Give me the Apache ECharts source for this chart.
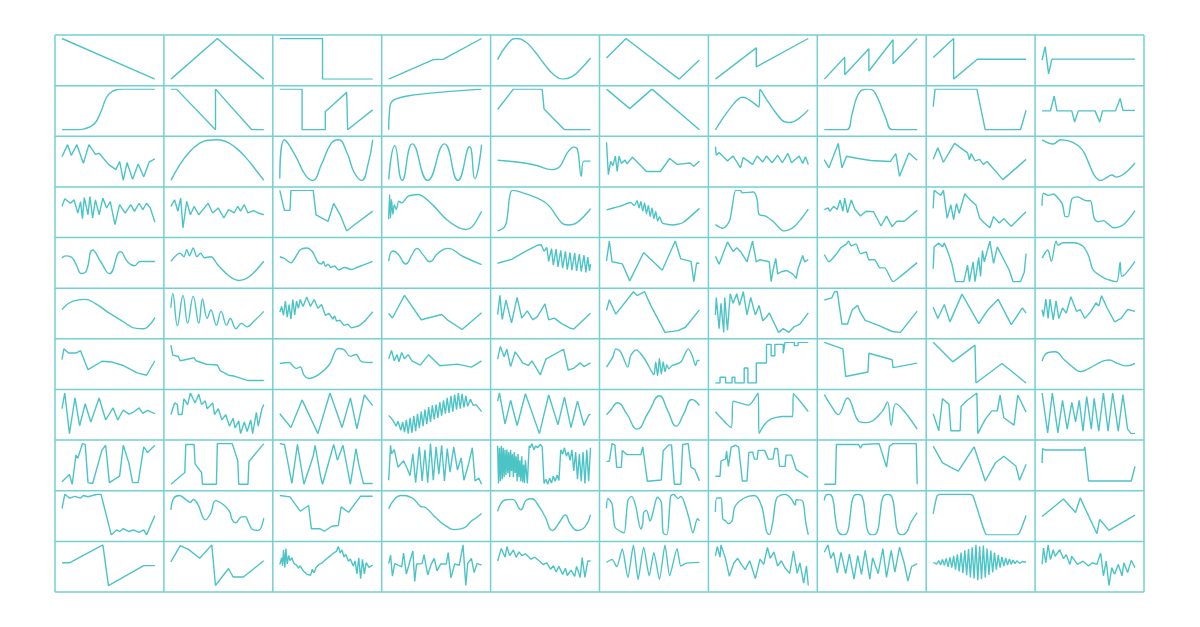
<!DOCTYPE html>
<html><head><meta charset="utf-8">
<script src="https://cdn.jsdelivr.net/npm/echarts@6/dist/echarts.min.js"></script>
<style>html,body{margin:0;padding:0;background:#fff}#main{width:1200px;height:627px}</style>
</head><body><div id="main"></div>
<script>
// ---- data: each cell is a list of [x, y] samples (x 0..10, y 0..10) ----
// row 1
const c_1_1 = [[0,10],[10,0]];
const c_1_2 = [[0,0],[5,10],[10,0]];
const c_1_3 = [[0,10],[4.6,10],[4.6,0],[10,0]];
const c_1_4 = [[0,0],[4.8,4.8],[5.9,4.9],[10,10]];
const c_1_5 = [[0,4.8],[1,8.4],[2,10],[3,9.2],[4,6.8],[5,3.8],[6,1.2],[7,0],[8,0.6],[9,2.6],[10,5.2]];
const c_1_6 = [[0,5.2],[2.1,10],[7.8,0],[10,4.7]];
const c_1_7 = [[0,0],[4.4,7.7],[4.4,3],[10,10]];
const c_1_8 = [[0,0],[2.2,5.4],[2.2,1.1],[4.8,7.5],[4.8,2.0],[7.4,9.7],[7.4,3.8],[10,10]];
const c_1_9 = [[0,5.3],[2.2,10],[2.2,0],[4.75,4.9],[10,4.9]];
const c_1_10 = [[0,5.1],[0.33,10],[0.7,0],[1.05,5.4],[10,5.4]];
// row 2
const c_2_1 = [[0,0],[1.5,0],[2.5,0.3],[3.5,1.5],[4.2,4.5],[4.8,8],[5.5,9.6],[6.5,10],[10,10]];
const c_2_2 = [[0,10],[0.6,10],[4.8,0],[4.8,10],[8.7,0],[10,0]];
const c_2_3 = [[0,10],[2.4,10],[2.4,0],[4.9,0],[4.9,4.5],[5.4,5.5],[7.2,9.2],[7.3,0],[10,4.9]];
const c_2_4 = [[0,0],[0.1,5],[0.3,6.8],[0.8,7.6],[2,8.3],[4,8.9],[7,9.5],[10,10]];
const c_2_5 = [[0,5],[1.7,10],[4.8,10],[5,5.1],[7.2,0],[10,0]];
const c_2_6 = [[0,10],[2.5,5.2],[4.9,10],[10,0]];
const c_2_7 = [[0,0],[1,3.5],[2,6.5],[2.6,7.8],[3,8],[3.6,7.4],[4.7,5.6],[4.8,10],[5.5,7.5],[6.5,4.2],[7.4,2.0],[8,1.8],[9,2.8],[10,4.9]];
const c_2_8 = [[0,0],[2.4,0],[3.0,4],[3.5,8],[4.1,9.8],[4.7,10],[5.3,9.6],[5.9,7],[6.6,3],[7.3,0],[10,0]];
const c_2_9 = [[0,5.7],[0.2,10],[4.7,10],[5.6,0],[9.4,0],[10,4.8]];
const c_2_10 = [[0,4.3],[0.9,4.3],[1.3,10],[1.6,4.3],[3.2,4.3],[3.5,0],[3.9,4.3],[5.7,4.3],[6.2,0],[6.5,4.3],[7.9,4.3],[8.4,9.1],[8.7,4.5],[10,4.5]];
// row 3
const c_3_1 = [[0,6.6],[0.6,10],[1.0,7.0],[1.6,10],[2.3,4.8],[2.9,10],[3.6,7.3],[4.0,7.6],[5.0,4.5],[5.8,3.0],[6.2,5.3],[6.6,0],[7.0,5.0],[7.6,0.3],[8.2,4.6],[8.8,1.0],[9.4,5.2],[10,6.0]];
const c_3_2 = [[0,0],[1,4],[2,7],[3,9],[4,9.9],[5,10],[6,9.5],[7,8],[8,5.8],[9,3],[10,0]];
const c_3_3 = [[0,0.5],[0.5,10],[1.7,6],[2.7,1.5],[3.5,0],[4.5,4],[5.5,9],[6.3,10],[7.2,7],[8.0,2],[8.8,0],[9.5,4],[10,10]];
const c_3_4 = [[0,0.3],[0.65,9.5],[1.45,0],[2.55,10],[4.2,0],[6.0,10],[7.45,0],[8.7,9.2],[9.27,0.5],[10,9.8]];
const c_3_5 = [[0,5.5],[2.3,4.8],[4.2,3.7],[5.8,2.3],[6.7,3.4],[7.5,8.0],[8.2,10],[8.6,9.2],[9.0,0],[9.3,5.2],[10,5.2]];
const c_3_6 = [[0,10],[0.2,0],[0.45,4.1],[0.7,2.8],[0.95,5.7],[1.15,1.0],[1.35,5.7],[1.6,3.5],[2.0,4.5],[2.2,3.4],[2.8,5.4],[4.3,1.0],[5.8,1.0],[6.8,5.0],[7.6,3.2],[9.0,3.6],[9.4,2.6],[10,4.2]];
const c_3_7 = [[0,10],[0.1,6],[0.4,7.3],[1.3,3.2],[1.9,5.6],[2.7,0],[3.0,4.8],[4.0,1.6],[4.5,5.6],[5.1,2.8],[5.5,5.6],[6.1,2.4],[6.7,5.9],[7.2,2.4],[7.8,6.8],[8.2,2.4],[9.0,5.6],[9.4,2.1],[9.7,5.2],[10,1.6]];
const c_3_8 = [[0,5.1],[0.5,2.6],[1.5,10],[1.9,2.6],[2.4,6.1],[3.5,5.5],[5,4.8],[7.1,4.5],[7.7,6.9],[8.1,0],[9.1,7.1],[10,4.9]];
const c_3_9 = [[0,5.6],[0.5,8.8],[1.1,4.8],[2.3,10],[3.7,7.4],[3.9,5.5],[4.1,7.2],[4.5,5.2],[5.0,5.6],[5.4,4.2],[5.8,5.0],[7.5,0],[10,5.6]];
const c_3_10 = [[0,10],[1.2,9.0],[2,10],[3.3,9.4],[4.3,7.7],[5.0,4.5],[5.6,1.5],[6.3,0.2],[6.9,0.8],[7.5,1.5],[8.0,1.0],[10,4.4]];
// row 4
const c_4_1 = [[0,6.5],[0.3,9.2],[0.9,7.6],[1.3,8.8],[1.7,4.1],[2.0,8.2],[2.2,2.1],[2.4,9.6],[2.8,3.5],[3.0,10],[3.3,2.4],[3.6,8.8],[4.0,3.5],[4.4,9.4],[4.8,5.9],[5.2,8.2],[5.7,0],[6.2,7.1],[6.8,4.1],[7.4,7.1],[7.8,4.7],[8.3,7.6],[8.7,5.3],[9.1,7.6],[9.5,5.9],[10,0.9]];
const c_4_2 = [[0,7.2],[0.4,9.4],[0.75,5.6],[1.05,10],[1.3,0],[1.7,8.9],[2.1,4.4],[2.5,7.2],[3.0,4.4],[3.6,6.7],[4.0,8.3],[4.5,5],[5.1,6.7],[5.7,3.3],[6.2,6.1],[6.8,5],[7.2,7.2],[7.5,5.6],[7.9,7.8],[8.3,5],[8.9,5.8],[9.4,5],[10,4.4]];
const c_4_3 = [[0,10],[0.5,5.1],[1.1,5.1],[1.2,10],[3.6,10],[3.9,4],[5.2,2.4],[5.8,6.8],[6.5,4],[7.2,0],[7.9,1.3],[10,4.9]];
const c_4_4 = [[0,2.9],[0.1,10],[0.2,3.3],[0.3,8.6],[0.45,4.3],[0.6,7.1],[0.8,5.7],[1.1,8.1],[1.4,7.6],[2.1,9.5],[3.2,10],[4.7,7.1],[6.2,2.9],[7.5,0.5],[8.3,0],[9.0,0.8],[10,5.2]];
const c_4_5 = [[0,0],[0.8,1.2],[1.1,4.5],[1.3,8.5],[1.6,10],[2.5,9.6],[5.2,6.9],[6.9,2.0],[7.6,1.5],[8.5,2],[10,5.5]];
const c_4_6 = [[0,6.2],[1.5,7.7],[2.6,9.2],[3.0,8.0],[3.3,10],[3.5,7.0],[3.7,9.6],[3.9,5.7],[4.1,9.0],[4.3,4.6],[4.5,8.0],[4.7,3.5],[4.9,7.0],[5.1,2.5],[5.3,5.5],[5.5,1.6],[5.7,3.4],[6.0,0.8],[6.5,0.3],[7.1,0],[8.2,0.9],[10,6.8]];
const c_4_7 = [[0,1.6],[0.8,0.7],[1.5,2.4],[1.8,5.8],[2.2,10],[2.7,10],[2.9,9.4],[4.1,9.6],[4.5,7.7],[4.7,4.1],[5.4,3.7],[6.2,2.4],[7.4,0],[8.5,1.1],[10,5.4]];
const c_4_8 = [[0,6.0],[0.4,6.6],[0.6,5.4],[1.0,7.1],[1.4,6.0],[1.7,9.4],[2.0,5.4],[2.2,10],[2.5,4.8],[2.9,9.4],[3.3,6.0],[3.9,3.7],[4.5,5.4],[5.3,5.2],[6.1,0.2],[6.7,3.7],[7.3,0],[7.8,1.9],[8.6,1.9],[10,5.7]];
const c_4_9 = [[0,5.2],[0.1,10],[0.8,8.7],[1.1,10],[1.5,2.6],[1.9,6.1],[2.2,2.2],[2.5,6.5],[2.8,3.9],[3.4,9.1],[4.0,7.4],[4.6,6.1],[5.0,2.6],[5.5,1.3],[6.1,0],[6.5,3.0],[7.1,1.3],[7.6,2.4],[8.4,0.4],[10,4.3]];
const c_4_10 = [[0,6.3],[0.15,9.8],[0.7,9.2],[1.2,9.6],[1.8,8.2],[2.2,6.7],[2.5,3.3],[2.8,3.3],[3.2,8.2],[3.8,8.8],[4.8,7.7],[5.2,7.7],[5.6,2.9],[6.0,1.9],[6.6,2.2],[7.1,1.3],[7.7,0.2],[8.8,1.2],[10,5.0]];
// row 5
const c_5_1 = [[0,6.6],[0.4,7.5],[1.0,7.0],[1.5,4.0],[2.1,0],[2.6,1.0],[3.3,10],[4.2,4.8],[5.1,0],[6.3,9.3],[7.1,4.8],[7.8,3.3],[8.4,5.1],[10,5.1]];
const c_5_2 = [[0,5.9],[1.0,8.4],[1.4,7.3],[1.7,9.5],[2.0,7.6],[2.4,10],[2.8,7.3],[3.2,8.4],[3.6,7.0],[4.3,7.3],[5.1,4.6],[6.3,1.3],[7.3,0],[8.5,1.3],[10,5.9]];
const c_5_3 = [[0,6.0],[0.5,5.2],[1.2,3.2],[1.6,5.2],[2.2,9.2],[2.9,10],[3.5,8.4],[4.1,3.5],[4.5,2.7],[4.7,3.9],[4.9,1.6],[5.2,2.6],[5.5,1.1],[5.9,1.8],[6.3,0],[7.0,1.1],[7.7,0.2],[8.3,1.1],[10,3.9]];
const c_5_4 = [[0,2.2],[0.45,8.4],[1.0,6.5],[1.84,0.4],[2.5,6],[3.05,10],[3.7,6],[4.44,1.8],[5.3,7],[6.35,10],[8,5],[10,0]];
const c_5_5 = [[0,3.3],[1.5,4.7],[3.0,7.6],[4.2,9.7],[4.7,10],[5.0,7.6],[5.3,9.0],[5.5,4.0],[5.8,8.6],[6.0,2.6],[6.3,8.4],[6.5,2.0],[6.8,8.0],[7.0,1.5],[7.3,7.6],[7.5,1.0],[7.8,7.2],[8.0,0.8],[8.3,7.0],[8.5,0.5],[8.8,6.6],[9.0,0.3],[9.3,6.2],[9.5,0],[9.7,5.5],[9.9,0.5],[10,3.0]];
const c_5_6 = [[0,5.1],[0.3,10],[0.6,4.9],[1.7,4.4],[2.5,0.2],[4.0,7.2],[6.0,2.8],[7.4,10],[8.0,5.6],[9.1,5.0],[9.4,0],[9.7,4.6],[10,4.5]];
const c_5_7 = [[0,6.3],[0.4,4.4],[1.3,9.8],[1.9,7.5],[2.3,8.4],[2.7,7.5],[3.4,5.0],[4.0,10],[4.4,5.0],[4.8,5.5],[5.8,5.0],[6.0,0.2],[6.2,2.9],[6.5,5.8],[6.7,2.1],[7.1,2.6],[7.7,2.9],[8.3,2.1],[8.7,1.0],[8.9,3.3],[9.4,6.5],[9.6,5.0],[10,5.5]];
const c_5_8 = [[0,6.7],[0.5,4.9],[1.4,7.1],[1.8,8.4],[2.4,9.3],[2.6,10],[2.9,8.8],[3.4,9.3],[3.9,6.9],[4.5,7.3],[4.8,5.4],[5.4,5.4],[6.0,3.4],[6.5,3.4],[7.4,0],[8.3,1.5],[10,4.7]];
const c_5_9 = [[0,3.3],[0.1,8.6],[0.6,9.5],[1.0,8.6],[1.2,9.5],[1.6,7.3],[2.0,4.6],[2.4,0.2],[3.3,0.2],[3.7,4.2],[3.9,0.2],[4.3,5.0],[4.5,0.2],[4.9,6.0],[5.1,1.5],[5.3,7.7],[5.5,5.0],[6.1,10],[6.5,4.6],[6.9,8.6],[8.2,2.9],[8.6,0.2],[9.4,0.2],[9.8,2.5],[10,7.0]];
const c_5_10 = [[0,5.8],[0.6,7.8],[1.0,5.0],[1.5,10],[1.7,9.0],[2.3,9.6],[3.4,9.6],[4.4,8.7],[5.0,6.4],[5.5,2.9],[6.7,0.9],[8.0,0],[8.4,4.8],[8.6,1.3],[10,5.0]];
// row 6
const c_6_1 = [[0,6.5],[1.2,9.4],[2.4,10],[3.6,8.6],[5.0,5.5],[6.5,2.6],[8.0,0.1],[8.8,0],[9.4,1.2],[10,3.8]];
const c_6_2 = [[0,5.9],[0.2,10],[0.7,0.8],[1.3,9.4],[1.8,1.5],[2.4,9.2],[3.0,1.5],[3.4,8.4],[3.9,2.9],[4.3,5.3],[4.9,1.0],[5.4,4.9],[6.0,1.0],[6.4,2.9],[7.0,0],[7.6,1.5],[8.2,0.5],[8.9,2.0],[10,4.9]];
const c_6_3 = [[0,5.2],[0.2,7.0],[0.4,4.2],[0.6,8.7],[0.8,3.6],[1.0,7.6],[1.2,3.0],[1.4,9.2],[1.6,4.2],[1.8,8.7],[2.0,6.4],[2.2,9.2],[2.5,7.0],[2.9,10],[3.3,7.0],[3.7,9.2],[4.1,6.4],[4.5,7.6],[4.9,4.2],[5.3,4.8],[5.7,3.0],[5.9,4.0],[6.1,2.4],[6.5,2.6],[6.9,1.0],[7.3,1.4],[7.7,0.2],[8.5,0.8],[9.2,2.5],[10,5.3]];
const c_6_4 = [[0,4.8],[0.4,3.5],[1.7,10],[3.5,3.0],[5.7,4.5],[6.4,2.8],[7.9,0.2],[10,5]];
const c_6_5 = [[0,4.4],[0.25,10],[0.5,3.0],[0.9,8.6],[1.5,2.0],[2.1,9.4],[2.6,3.4],[3.2,5.5],[3.8,2.9],[4.3,3.9],[5.1,7.5],[5.5,2.9],[6.1,3.4],[6.9,1.8],[7.7,0.6],[8.2,0.2],[10,4.8]];
const c_6_6 = [[0,5.4],[0.3,7.9],[1.0,4.5],[2.9,9.8],[3.3,8.9],[4.1,9.8],[4.8,6.4],[6.3,0.2],[7.7,0.6],[8.5,1.4],[10,5.5]];
const c_6_7 = [[0,4.4],[0.1,8.6],[0.4,1.1],[0.6,7.2],[0.9,0.2],[1.0,8.6],[1.3,0.7],[1.6,9.5],[1.9,7.2],[2.3,9.5],[2.6,6.7],[3.0,10],[3.4,4.4],[3.8,8.6],[4.3,4.4],[4.7,6.7],[5.1,3.0],[5.5,3.9],[5.8,4.9],[6.2,3.0],[6.8,0.2],[7.3,1.1],[7.9,0.2],[8.5,1.6],[9.1,2.2],[10,4.9]];
const c_6_8 = [[0,8.0],[0.8,8.5],[1.1,10],[1.4,10],[1.9,2.2],[2.5,2.2],[3.0,5.6],[3.6,6.7],[3.8,5.4],[4.4,3.1],[5.9,1.8],[7.3,0.4],[8.2,0.2],[10,5.3]];
const c_6_9 = [[0,5.7],[0.5,2.0],[1.2,6.6],[1.8,0.9],[3.1,10],[4.9,0.3],[5.9,4.9],[7.0,8.3],[8.4,0],[9.6,5.5],[10,3.8]];
const c_6_10 = [[0,4.7],[0.15,2.0],[0.4,8.7],[0.65,1.3],[0.85,8.7],[1.2,0.7],[1.5,8.0],[1.8,1.3],[2.2,5.3],[2.6,3.3],[3.1,9.6],[3.7,4.0],[4.1,4.7],[4.6,1.3],[5.2,3.7],[5.8,7.3],[6.1,6.0],[6.4,10],[7.0,5.3],[7.8,0],[8.5,1.3],[9.2,4.7],[10,4.0]];
// row 7
const c_7_1 = [[0,5.9],[0.2,10],[0.7,8.4],[1.5,8.4],[2.0,9.3],[2.8,2.1],[4.3,5.3],[5.4,5.0],[6.5,3.8],[8.1,0.9],[9.1,0],[10,5.5]];
const c_7_2 = [[0,10],[0.2,7.2],[0.8,6.8],[1.0,5.6],[1.4,5.8],[1.9,6.1],[2.5,6.5],[2.7,5.6],[3.8,4.6],[5.0,4.4],[5.3,2.8],[6.2,1.5],[6.9,1.2],[8.3,0],[10,0]];
const c_7_3 = [[0,5.1],[1.0,5.4],[1.4,4.3],[1.8,3.5],[2.2,4.0],[2.6,1.3],[3.1,0.2],[4.1,1.3],[5.3,4.6],[6.3,10],[6.9,9.6],[7.6,7.4],[8.2,8.0],[8.8,5.7],[10,5.4]];
const c_7_4 = [[0,5.0],[0.3,10],[0.6,3.8],[0.9,7.5],[1.1,3.2],[1.4,8.8],[1.7,5.0],[2.1,7.5],[2.5,3.8],[3.4,1.2],[4.3,7.5],[5.5,0.8],[7.4,1.8],[8.9,0],[10,3.8]];
const c_7_5 = [[0,5.5],[0.3,10],[0.7,6.4],[1.0,9.0],[1.4,2.9],[1.9,8.1],[2.3,6.2],[2.7,4.2],[3.3,3.3],[3.7,4.9],[4.6,0],[5.2,5.5],[7.1,9.0],[7.6,1.7],[8.2,2.3],[8.9,4.2],[9.3,2.9],[10,4.2]];
const c_7_6 = [[0,3.2],[0.7,7.1],[1.0,10],[1.5,9.0],[2.3,3.2],[2.6,7.4],[3.2,9.6],[3.8,7.7],[4.4,4.5],[4.8,1.9],[5.1,0.3],[5.3,5.0],[5.5,0],[5.7,6.4],[5.9,0.6],[6.1,5.1],[6.3,1.5],[6.5,4.0],[6.7,2.6],[7.1,3.8],[8.0,5.1],[8.8,10],[9.2,7.7],[9.6,3.8],[9.8,5.8],[10,5.5]];
const c_7_7 = [[0,0],[0.5,0],[0.5,1.4],[1.1,1.4],[1.1,0],[1.8,0],[1.8,1.4],[2.1,1.4],[2.1,0],[3.1,0],[3.1,3.7],[3.5,3.7],[3.5,0],[4.4,0],[4.4,4.9],[5.5,4.9],[5.5,9.5],[6.0,9.5],[6.0,6.7],[6.4,6.7],[6.4,9.5],[7.3,9.5],[7.3,7.3],[7.5,7.3],[7.5,10],[8.5,10],[8.5,9.2],[8.9,9.2],[8.9,10],[10,10]];
const c_7_8 = [[0,10],[2.0,8.1],[2.3,0],[4.7,1.3],[4.8,6.8],[7.3,4.9],[7.4,2.6],[10,3.9]];
const c_7_9 = [[0,10],[2.1,5.2],[4.5,9.3],[4.6,0],[7.4,4.8],[10,0]];
const c_7_10 = [[0,5.3],[0.6,9.2],[1.4,9.7],[2.4,5.8],[3.5,1.7],[4.1,0.3],[5.0,1.7],[6.4,5.0],[7.2,5.8],[8.1,4.2],[9.1,3.0],[10,4.2]];
// row 8
const c_8_1 = [[0,6.2],[0.3,10],[0.8,0.2],[1.4,8.8],[1.9,2.1],[2.5,7.4],[3.1,3.0],[4.0,8.8],[4.7,3.5],[5.5,6.4],[6.0,3.5],[6.6,5.9],[7.2,4.9],[7.7,5.4],[8.3,6.4],[8.7,5.1],[9.2,5.8],[10,5.0]];
const c_8_2 = [[0,4.8],[0.4,7.6],[0.7,7.2],[0.8,4.8],[1.2,4.8],[1.4,8.6],[1.8,7.2],[2.1,10],[2.6,7.6],[3.0,9.7],[3.3,7.2],[3.7,8.1],[3.9,6.2],[4.5,7.6],[4.7,4.8],[5.1,6.2],[5.5,3.5],[5.9,4.8],[6.3,2.0],[6.7,3.9],[6.9,1.6],[7.3,3.2],[7.5,0.2],[7.9,3.0],[8.2,0.7],[8.6,3.5],[8.8,0.2],[9.2,5.3],[9.4,2.0],[9.8,6.2],[10,7.2]];
const c_8_3 = [[0,4.9],[1.2,1.5],[2.4,8.3],[4.1,0],[5.4,10],[6.7,1.5],[7.6,8.8],[8.3,1.2],[9.1,9.5],[10,6.9]];
const c_8_4 = [[0,4.6],[0.25,4.0],[0.5,3.2],[0.8,2.0],[1.0,3.2],[1.3,1.0],[1.5,3.0],[1.7,0.5],[1.9,3.5],[2.1,0.2],[2.3,4.0],[2.5,0.4],[2.7,4.5],[2.9,0.8],[3.1,5.0],[3.3,1.5],[3.5,5.5],[3.7,2.0],[3.9,6.0],[4.1,2.5],[4.3,6.6],[4.5,3.0],[4.7,7.0],[4.9,3.6],[5.1,7.2],[5.3,4.0],[5.5,7.8],[5.7,4.5],[5.9,8.2],[6.1,5.0],[6.3,8.8],[6.5,5.2],[6.7,9.3],[6.9,5.5],[7.1,9.6],[7.3,6.0],[7.5,10],[7.7,6.2],[7.9,9.8],[8.1,6.5],[8.3,9.3],[8.5,6.8],[8.8,8.5],[9.1,7.0],[9.4,7.2],[10,5.5]];
const c_8_5 = [[0,8.0],[0.2,10],[0.8,2.4],[1.4,8.2],[2.1,2.0],[3.0,9.8],[4.5,0],[5.5,9.5],[6.5,2.2],[7.2,9.0],[7.9,1.5],[8.6,8.0],[9.3,2.0],[9.8,4.5],[10,4.8]];
const c_8_6 = [[0,4.3],[0.4,5.5],[1.2,7.9],[2.2,4.5],[3.3,0],[4.5,5],[5.7,10],[6.6,5.5],[7.5,0.9],[8.3,4.5],[9.2,8.9],[10,7.1]];
const c_8_7 = [[0,5.4],[1.7,1.5],[1.9,8.0],[2.7,7.5],[3.6,7.0],[4.6,10],[4.7,0],[5.2,2.0],[6.0,3.6],[7.2,4.2],[8.3,4.2],[8.4,9.8],[10,5.4]];
const c_8_8 = [[0,10],[0.8,6.5],[1.5,4.2],[2.5,9.0],[3.8,2.1],[4.6,1.9],[6.2,5.0],[6.8,7.9],[7.2,1.1],[7.7,7.4],[8.6,5.2],[10,0]];
const c_8_9 = [[0,4.9],[0.6,0.7],[1.0,8.6],[1.7,7.2],[1.9,0.7],[2.9,0.7],[3.0,6.7],[3.6,8.1],[4.7,10],[4.8,0],[5.6,3.5],[6.3,5.6],[6.9,5.6],[7.2,9.5],[7.6,3.9],[8.7,2.1],[9.1,9.5],[10,5.3]];
const c_8_10 = [[0,10],[0.6,0.2],[1.1,10],[1.7,0.2],[2.2,8.2],[2.7,1.1],[3.2,7.7],[3.6,2.9],[4.0,8.2],[4.4,0.6],[4.8,9.1],[5.3,1.1],[5.6,8.7],[6.1,0.6],[6.6,10],[7.1,0.6],[7.6,10],[8.2,0.6],[8.7,9.6],[9.2,1.1],[9.6,0],[10,0]];
// row 9
const c_9_1 = [[0,0.6],[0.8,2.4],[1.1,0],[1.3,0],[1.5,7.2],[1.7,6.4],[2.2,10],[2.5,9.8],[2.8,0.4],[3.3,0.2],[4.3,8.4],[4.7,9.6],[5.1,0.4],[6.2,2.0],[6.6,9.6],[7.2,5.2],[7.6,0.4],[8.2,0.4],[8.8,9.2],[9.2,7.8],[10,9.6]];
const c_9_2 = [[0,0],[1.5,2.9],[1.6,9.8],[2.5,9.8],[2.6,5],[3.3,2.9],[3.4,0],[4.9,0],[5.0,10],[6.6,10],[7.2,5.8],[7.3,0],[8.3,0],[8.4,5.6],[10,10]];
const c_9_3 = [[0,10],[0.5,9.8],[1.3,0.4],[1.9,9.8],[2.6,0.2],[3.6,7.0],[3.8,9.6],[4.4,2.0],[4.6,0.2],[5.8,9.8],[6.2,6.0],[6.8,9.6],[7.6,0.2],[8.2,8.8],[8.5,5.0],[9.0,0.4],[10,0.4]];
const c_9_4 = [[0,1.0],[0.2,9.6],[0.3,7.5],[0.6,8.5],[1.0,4.2],[1.6,5.8],[2.0,3.8],[2.3,2.1],[2.6,7.5],[2.9,0.4],[3.3,9.2],[3.6,0.8],[3.9,8.5],[4.2,0.4],[4.5,10],[4.8,1.0],[5.1,9.2],[5.4,2.5],[5.7,9.6],[6.0,0.8],[6.3,8.8],[6.6,3.0],[7.0,9.2],[7.4,3.5],[7.8,6.5],[8.1,1.0],[8.6,5.0],[9.0,9.0],[9.3,0.8],[9.7,1.5],[10,0]];
const c_9_5 = [[0,9.5],[0.1,0.5],[0.2,9.0],[0.3,1],[0.4,9.5],[0.5,1.5],[0.6,9.0],[0.7,2],[0.8,8.5],[0.9,2.5],[1.0,8.6],[1.1,3],[1.2,8],[1.3,2],[1.4,8.5],[1.5,3.5],[1.6,7.5],[1.7,2],[1.8,8],[1.9,3],[2.0,7],[2.1,1],[2.2,7.5],[2.3,2],[2.4,6],[2.5,1],[2.6,7],[2.7,0.8],[2.8,5],[2.9,0.6],[3.0,6],[3.2,0.5],[3.4,9.5],[3.5,9.0],[3.7,10],[3.9,8.5],[4.1,9.5],[4.3,9.0],[4.6,9.8],[4.8,9.2],[5.0,0.5],[5.2,1.5],[5.4,0.3],[5.6,1.8],[5.8,0.6],[6.0,2.2],[6.2,1.0],[6.4,2.5],[6.6,1.2],[6.8,8.5],[7.0,7.5],[7.2,9.0],[7.4,7.0],[7.6,8.0],[7.8,6.0],[8.0,8.5],[8.2,3.5],[8.4,8],[8.6,1.5],[8.8,7.5],[9.0,1],[9.2,8],[9.4,0.5],[9.6,8.5],[9.8,1],[10,9]];
const c_9_6 = [[0,5.6],[0.3,5.6],[0.6,9.8],[0.9,9.5],[1.1,4.2],[1.6,4.2],[1.7,8.2],[2.2,7.2],[3.7,7.2],[3.9,9.0],[4.4,0.9],[4.6,1.2],[5.9,1.2],[6.1,8.1],[6.7,9.5],[7.0,9.5],[7.3,0.2],[8.0,0.2],[8.2,9.6],[8.8,9.8],[9.1,4.2],[9.5,3.7],[10,1.0]];
const c_9_7 = [[0,1.5],[0.5,1.5],[0.6,5.7],[1.1,6.2],[1.2,8.4],[1.4,4.2],[1.7,9.5],[2.2,10],[2.5,9.5],[2.9,0.2],[3.4,0.2],[3.6,8.0],[4.0,8.2],[4.2,6.2],[4.5,6.2],[4.6,8.6],[5.3,8.6],[5.7,6.2],[6.2,6.2],[6.4,9.1],[6.7,9.1],[6.9,4.2],[7.5,4.2],[7.6,7.3],[8.2,7.3],[8.7,3.3],[10,1.2]];
const c_9_8 = [[0,0],[1.2,0],[1.3,9.5],[3.7,9.5],[3.9,8.6],[4.1,9.5],[5.9,9.7],[6.7,4.1],[7.0,9.0],[7.4,9.7],[9.9,9.7],[10,0]];
const c_9_9 = [[0,9.8],[1.0,5.2],[2.7,2.9],[4.4,9.6],[5.6,0.2],[6.7,5.2],[7.6,7.0],[8.9,4.3],[9.3,0.4],[10,4.8]];
const c_9_10 = [[0,5.3],[0.05,9.5],[0.3,9.1],[4.5,9.1],[4.6,10],[5.0,0.1],[9.6,0.1],[10,4.3]];
// row 10
const c_10_1 = [[0,6.4],[0.3,9.8],[0.8,8.9],[1.4,9.3],[2.0,8.9],[2.3,9.5],[2.8,9.2],[3.3,9.5],[3.8,9.8],[4.2,9.8],[5.3,0.2],[5.9,1.4],[6.2,1.0],[6.6,1.7],[7.2,1.0],[7.7,1.4],[8.3,0.8],[8.8,1.4],[9.1,0.2],[10,4.8]];
const c_10_2 = [[0,5.8],[0.3,9.0],[0.9,9.8],[1.6,8.7],[2.1,7.9],[2.4,8.7],[2.9,7.4],[3.7,3.1],[4.3,5.0],[4.8,8.4],[5.6,7.4],[6.3,5.5],[6.6,3.1],[7.0,2.3],[7.5,3.8],[8.0,4.0],[8.4,2.1],[8.8,0.4],[9.4,0.2],[10,3.6]];
const c_10_3 = [[0,10],[1.1,9.6],[2.2,5.6],[3.1,7.2],[3.4,0.7],[4.3,0.7],[4.8,0],[5.6,1.4],[6.3,1.6],[6.6,6.8],[7.4,5.3],[8.7,9.8],[10,9.8]];
const c_10_4 = [[0,6.1],[0.6,8.8],[1.3,10],[2.5,9.3],[3.4,6.9],[4.0,6.4],[5.1,3.4],[6.2,1.0],[7.1,0],[8.1,0.5],[8.9,2.5],[9.4,3.4],[10,4.7]];
const c_10_5 = [[0,6.1],[0.8,9.6],[1.6,9.8],[2.5,6.6],[3.1,9.6],[3.7,10],[4.3,8.3],[5.1,4.5],[5.9,0.2],[6.7,2.9],[7.3,5.0],[7.8,2.3],[8.6,0.2],[9.4,1.3],[10,5.0]];
const c_10_6 = [[0,6.5],[0.15,8.8],[0.6,7.5],[0.9,2.1],[1.6,0.9],[1.9,0.7],[2.3,8.3],[2.7,9.3],[3.1,7.4],[3.7,1.6],[3.9,2.8],[4.0,5.5],[4.3,6.0],[4.7,3.5],[5.0,5.5],[5.3,8.3],[5.5,9.1],[5.9,7.9],[6.1,0.7],[6.5,0.2],[6.9,9.3],[7.2,9.8],[7.7,8.8],[8.0,9.3],[8.3,8.3],[8.9,4.0],[9.3,0.7],[9.8,4.0],[10,3.5]];
const c_10_7 = [[0,5.7],[0.15,9.1],[0.6,9.1],[0.8,4.0],[1.1,3.6],[1.4,2.9],[1.8,3.6],[2.1,7.0],[3.1,9.1],[4.2,9.7],[5.0,7.0],[5.5,1.0],[5.8,0.2],[6.2,3.6],[6.6,9.1],[7.5,10],[8.1,9.1],[8.6,7.4],[8.7,8.7],[9.4,8.3],[9.7,3.6],[10,0.2]];
const c_10_8 = [[0,8.5],[0.2,9.8],[0.5,10],[0.9,9],[1.2,4],[1.5,0.8],[2.0,0],[2.5,0.8],[2.8,5],[3.1,9.2],[3.6,10],[4.1,9.2],[4.4,5],[4.7,0.8],[5.2,0],[5.7,0.8],[6.0,5],[6.3,9.2],[6.8,10],[7.3,9.2],[7.6,5],[7.9,0.8],[8.4,0],[8.9,0.8],[9.3,3],[10,5.5]];
const c_10_9 = [[0,5.2],[0.4,9.5],[0.7,10],[4.0,10],[4.3,9.5],[5.5,1.0],[5.8,0],[9.0,0],[9.3,0.6],[10,4.8]];
const c_10_10 = [[0,4.9],[2.3,9.7],[3.6,6.0],[4.1,10],[5.9,0.2],[6.2,4.1],[7.2,1.1],[10,5.3]];
// row 11
const c_11_1 = [[0,5.6],[0.8,5.6],[4.4,10],[5.0,0],[8.8,4.9],[10,4.9]];
const c_11_2 = [[0,5.8],[1.0,9.8],[1.9,8.9],[3.1,6.7],[4.4,10],[4.8,0],[6.2,4.2],[6.7,2.1],[7.8,2.1],[10,6.1]];
const c_11_3 = [[0,4.4],[0.2,6.5],[0.3,4.0],[0.4,8.9],[0.55,3.5],[0.65,9.4],[0.8,4.6],[0.95,7.2],[1.1,5.6],[1.3,6.5],[1.5,4.8],[1.8,4.2],[2.0,3.3],[2.2,4.0],[2.5,2.5],[2.7,3.0],[2.9,1.4],[3.1,2.0],[3.3,1.0],[3.5,2.9],[3.7,1.8],[3.9,3.5],[4.2,4.4],[4.6,5.0],[5.0,6.1],[5.4,7.0],[5.8,8.0],[6.1,8.5],[6.3,10],[6.5,8.0],[6.7,8.9],[6.9,6.8],[7.1,7.5],[7.4,5.4],[7.6,6.1],[7.9,3.9],[8.1,5.5],[8.3,1.5],[8.5,6.5],[8.7,0],[8.9,6.0],[9.1,1.5],[9.3,5.0],[9.6,3.5],[10,4.2]];
const c_11_4 = [[0,5.4],[0.2,7.5],[0.4,2.3],[0.65,5.4],[1.0,5.0],[1.4,4.6],[1.6,8.0],[1.9,2.8],[2.2,5.3],[2.6,8.5],[2.8,1.0],[3.0,5.3],[3.6,5.4],[3.8,7.6],[4.2,2.6],[4.6,5.4],[4.9,6.7],[5.2,3.6],[5.6,5.3],[6.2,5.3],[6.4,8.1],[6.7,1.9],[7.1,5.3],[7.6,5.0],[8.0,10],[8.3,0],[8.5,5.4],[8.9,6.7],[9.2,3.2],[9.5,5.4],[9.8,5.2],[10,5.0]];
const c_11_5 = [[0,5.4],[0.4,9.4],[0.8,6.6],[1.0,10],[1.3,7.1],[1.7,8.9],[2.0,6.6],[2.3,8.3],[2.6,7.1],[3.0,7.7],[3.6,6.0],[4.0,6.6],[4.5,5.4],[4.9,4.3],[5.3,4.8],[5.7,2.8],[6.0,3.9],[6.3,1.9],[6.6,3.7],[7.0,1.1],[7.3,3.1],[7.5,0.8],[7.9,2.5],[8.3,0.5],[8.5,3.7],[8.9,0.2],[9.1,6.5],[9.4,0.2],[9.7,5.4],[10,5.4]];
const c_11_6 = [[0,4.9],[0.6,5.7],[1.1,3.7],[1.7,8.5],[2.3,0.8],[2.9,9.5],[3.4,0.3],[4.0,9.0],[4.6,1.3],[5.1,7.6],[5.7,0.3],[6.3,9.6],[6.8,1.3],[7.6,8.6],[8.0,3.9],[8.6,4.7],[10,4.9]];
const c_11_7 = [[0,7.3],[0.2,9.6],[0.5,7.0],[0.6,10],[1.1,6.5],[1.5,2.3],[2.0,5.6],[2.4,6.7],[2.8,5.2],[3.2,3.9],[3.7,6.1],[4.3,1.7],[4.8,6.5],[5.2,5.2],[5.6,9.4],[5.9,6.7],[6.3,8.3],[6.7,4.8],[7.1,6.1],[7.5,4.3],[8.0,3.0],[8.4,8.5],[8.8,3.0],[9.1,5.6],[9.5,0.6],[9.8,4.8],[10,0]];
const c_11_8 = [[0,8.0],[0.4,10],[0.7,6.3],[1.0,8.0],[1.4,2.4],[1.8,8.0],[2.3,2.2],[2.7,7.5],[3.2,0.7],[3.6,7.1],[4.0,2.0],[4.4,8.5],[4.9,0.7],[5.2,6.5],[5.8,2.2],[6.3,9.0],[6.7,1.2],[7.2,8.5],[7.6,2.6],[8.1,9.4],[8.6,5.1],[9.0,0.2],[9.4,4.1],[10,4.9]];
const c_11_9 = [[0,5.0],[0.2,5.5],[0.4,4.6],[0.6,5.6],[0.8,4.3],[1.0,5.9],[1.2,4.2],[1.4,6.2],[1.6,3.8],[1.8,6.5],[2.0,3.6],[2.2,6.9],[2.4,3.0],[2.6,7.3],[2.8,2.5],[3.0,7.8],[3.2,2.0],[3.4,8.5],[3.6,1.4],[3.8,8.8],[4.0,0.8],[4.2,9.3],[4.4,0.5],[4.6,10],[4.8,0],[5.0,9.6],[5.2,0.3],[5.4,9.8],[5.6,0.8],[5.8,9.0],[6.0,1.5],[6.2,8.4],[6.4,2.2],[6.6,7.8],[6.8,3.0],[7.0,7.1],[7.2,3.6],[7.4,6.6],[7.6,4.0],[7.8,6.3],[8.0,4.3],[8.2,6.0],[8.4,4.5],[8.6,5.7],[8.8,4.7],[9.0,5.5],[9.3,4.8],[9.6,5.3],[10,5.1]];
const c_11_10 = [[0,5.2],[0.15,9.2],[0.4,5.6],[0.65,10],[0.9,6.4],[1.2,8.8],[1.4,7.2],[1.9,8.8],[2.3,6.6],[2.6,7.6],[3.0,5.2],[3.2,7.2],[3.8,5.2],[4.4,6.0],[5.0,4.8],[5.4,5.6],[5.9,5.2],[6.3,8.0],[6.6,2.4],[6.9,6.0],[7.2,0],[7.5,4.4],[7.8,2.8],[8.2,5.2],[8.6,2.4],[8.8,5.6],[9.2,3.2],[9.6,6.2],[10,4.4]];

const cells = [
  [c_1_1,c_1_2,c_1_3,c_1_4,c_1_5,c_1_6,c_1_7,c_1_8,c_1_9,c_1_10],
  [c_2_1,c_2_2,c_2_3,c_2_4,c_2_5,c_2_6,c_2_7,c_2_8,c_2_9,c_2_10],
  [c_3_1,c_3_2,c_3_3,c_3_4,c_3_5,c_3_6,c_3_7,c_3_8,c_3_9,c_3_10],
  [c_4_1,c_4_2,c_4_3,c_4_4,c_4_5,c_4_6,c_4_7,c_4_8,c_4_9,c_4_10],
  [c_5_1,c_5_2,c_5_3,c_5_4,c_5_5,c_5_6,c_5_7,c_5_8,c_5_9,c_5_10],
  [c_6_1,c_6_2,c_6_3,c_6_4,c_6_5,c_6_6,c_6_7,c_6_8,c_6_9,c_6_10],
  [c_7_1,c_7_2,c_7_3,c_7_4,c_7_5,c_7_6,c_7_7,c_7_8,c_7_9,c_7_10],
  [c_8_1,c_8_2,c_8_3,c_8_4,c_8_5,c_8_6,c_8_7,c_8_8,c_8_9,c_8_10],
  [c_9_1,c_9_2,c_9_3,c_9_4,c_9_5,c_9_6,c_9_7,c_9_8,c_9_9,c_9_10],
  [c_10_1,c_10_2,c_10_3,c_10_4,c_10_5,c_10_6,c_10_7,c_10_8,c_10_9,c_10_10],
  [c_11_1,c_11_2,c_11_3,c_11_4,c_11_5,c_11_6,c_11_7,c_11_8,c_11_9,c_11_10]
];

// ---- style: smoothing per cell ----
const smoothRows = [
  [0,0,0,0,0.5,0,0,0,0,0],
  [0.4,0,0,0.5,0,0,0.4,0.4,0,0],
  [0,0.5,0.5,0.5,0.4,0,0,0,0,0.4],
  [0,0,0,0.3,0.4,0.2,0.3,0,0,0.3],
  [0.5,0.3,0.3,0.5,0,0,0,0.2,0,0.3],
  [0.5,0.4,0,0,0,0,0,0,0,0],
  [0,0,0.4,0,0,0.3,0,0,0,0.5],
  [0,0,0,0,0,0.5,0.2,0.4,0,0],
  [0,0,0,0,0,0,0,0,0,0],
  [0,0.4,0,0.5,0.5,0.3,0.3,0.5,0.2,0],
  [0,0,0,0,0,0.2,0,0,0,0]
];

// ---- axis padding: which part [top, bottom] of a cell's plot height the data range fills
// (mimics each small chart's rounded value axis); cells not listed fill it fully
const axisFit = {
  '1_10':[0.2,0.87], '2_10':[0.17,0.81],
  '3_1':[0.12,1], '3_4':[0.1,1], '3_5':[0.18,0.9], '3_6':[0.06,0.86], '3_7':[0.17,0.69], '3_8':[0.09,0.9], '3_9':[0.09,0.98],
  '4_1':[0.15,0.84], '4_2':[0.19,0.92], '4_4':[0.1,0.96], '4_6':[0.25,0.85], '4_8':[0.19,0.89], '4_9':[0,0.92], '4_10':[0.07,0.92],
  '5_1':[0.22,0.8], '5_2':[0.17,0.97], '5_3':[0.17,0.71], '5_4':[0.18,0.58], '5_5':[0.09,0.77],
  '6_1':[0.19,0.91], '6_2':[0.04,0.91], '6_3':[0.13,0.89], '6_4':[0.09,0.93], '6_5':[0.09,0.92], '6_9':[0.06,0.81], '6_10':[0.1,0.74],
  '7_1':[0.16,0.81], '7_2':[0.07,0.94], '7_3':[0.15,0.89], '7_4':[0.2,0.61], '7_5':[0.1,0.8], '7_6':[0.16,0.82], '7_8':[0,0.84], '7_10':[0.23,0.72],
  '8_6':[0.07,0.89], '8_8':[0.04,0.89],
  '9_7':[0.04,0.92], '9_9':[0.06,0.92], '9_10':[0.08,0.92],
  '10_2':[0.03,0.89], '10_3':[0.03,0.91], '10_4':[0.03,0.87], '10_5':[0.11,0.89], '10_10':[0.09,0.97],
  '11_3':[0.04,0.83], '11_5':[0.04,0.8], '11_6':[0,0.85], '11_8':[0,0.89], '11_9':[0,0.87]
};

const LINE = '#4cc4c6', BORDER = '#74d0d1';
const X0 = 55, Y0 = 35, CW = 108.9, CH = 50.64;
const nRows = cells.length, nCols = cells[0].length;

const grid = [], xAxis = [], yAxis = [], series = [], graphic = [];
let k = 0;
for (let r = 0; r < nRows; r++) {
  for (let c = 0; c < nCols; c++) {
    const fit = axisFit[(r + 1) + '_' + (c + 1)] || [0, 1];
    const t = fit[0], b = fit[1];
    grid.push({ left: X0 + c * CW + 7, top: Y0 + r * CH + 3.5, width: CW - 16, height: CH - 10 });
    xAxis.push({ type: 'value', gridIndex: k, show: false, min: 'dataMin', max: 'dataMax' });
    yAxis.push({
      type: 'value', gridIndex: k, show: false,
      min: v => v.min - (1 - b) * (v.max - v.min) / (b - t),
      max: v => v.max + t * (v.max - v.min) / (b - t)
    });
    series.push({
      type: 'line', xAxisIndex: k, yAxisIndex: k, data: cells[r][c],
      showSymbol: false, symbol: 'none', smooth: smoothRows[r][c] || false,
      lineStyle: { color: LINE, width: 1.4 }, silent: true
    });
    k++;
  }
}
for (let r = 0; r <= nRows; r++) {
  graphic.push({ type: 'line', shape: { x1: X0, y1: Y0 + r * CH, x2: X0 + nCols * CW, y2: Y0 + r * CH },
    style: { stroke: BORDER, lineWidth: 1.5 }, silent: true });
}
for (let c = 0; c <= nCols; c++) {
  graphic.push({ type: 'line', shape: { x1: X0 + c * CW, y1: Y0, x2: X0 + c * CW, y2: Y0 + nRows * CH },
    style: { stroke: BORDER, lineWidth: 1.5 }, silent: true });
}

const chart = echarts.init(document.getElementById('main'), null, { renderer: 'canvas' });
chart.setOption({ animation: false, backgroundColor: '#fff', grid, xAxis, yAxis, series, graphic });
</script>
</body></html>
